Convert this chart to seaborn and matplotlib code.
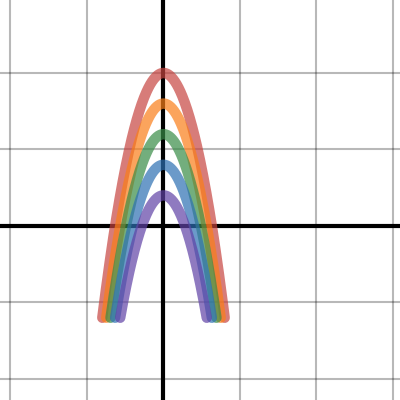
import numpy as np
import pandas as pd
import seaborn as sns
from matplotlib import pyplot as plt

# vertex height of each parabola y = top - 5 x^2, cut off at y = -1.2
tops = [2.0, 1.6, 1.2, 0.8, 0.4]
colors = ['#c74440', '#fa7e19', '#388c46', '#2d70b3', '#6042a6']
coef = 5.0
y_min = -1.2

sns.set_style("white")

fig = plt.figure(figsize=(4, 4), dpi=100)
ax = fig.add_axes([0, 0, 1, 1])

# grid and axes, Desmos style
for gx in [-2, -1, 1, 2, 3]:
    ax.axvline(gx, color='#000000', alpha=0.28, lw=1.5, zorder=0)
for gy in [-2, -1, 1, 2]:
    ax.axhline(gy, color='#000000', alpha=0.28, lw=1.5, zorder=0)
ax.axvline(0, color='black', lw=3, zorder=1)
ax.axhline(0, color='black', lw=3, zorder=1)

rows = []
for i, top in enumerate(tops):
    half = np.sqrt((top - y_min) / coef)
    xs = np.linspace(-half, half, 200)
    for x in xs:
        rows.append({'curve': i, 'x': x, 'y': top - coef * x ** 2})
df = pd.DataFrame(rows)

for i in range(len(tops)):
    sub = df[df['curve'] == i]
    sns.lineplot(data=sub, x='x', y='y', sort=False, color=colors[i], lw=7.5,
                 alpha=0.7, solid_capstyle='round', ax=ax, zorder=3 + i)

ax.set_xlim(-2.137, 3.092)
ax.set_ylim(-2.275, 2.954)
ax.set_xticks([])
ax.set_yticks([])
ax.set_xlabel('')
ax.set_ylabel('')
for s in ax.spines.values():
    s.set_visible(False)

plt.savefig('out.png', dpi=100)
